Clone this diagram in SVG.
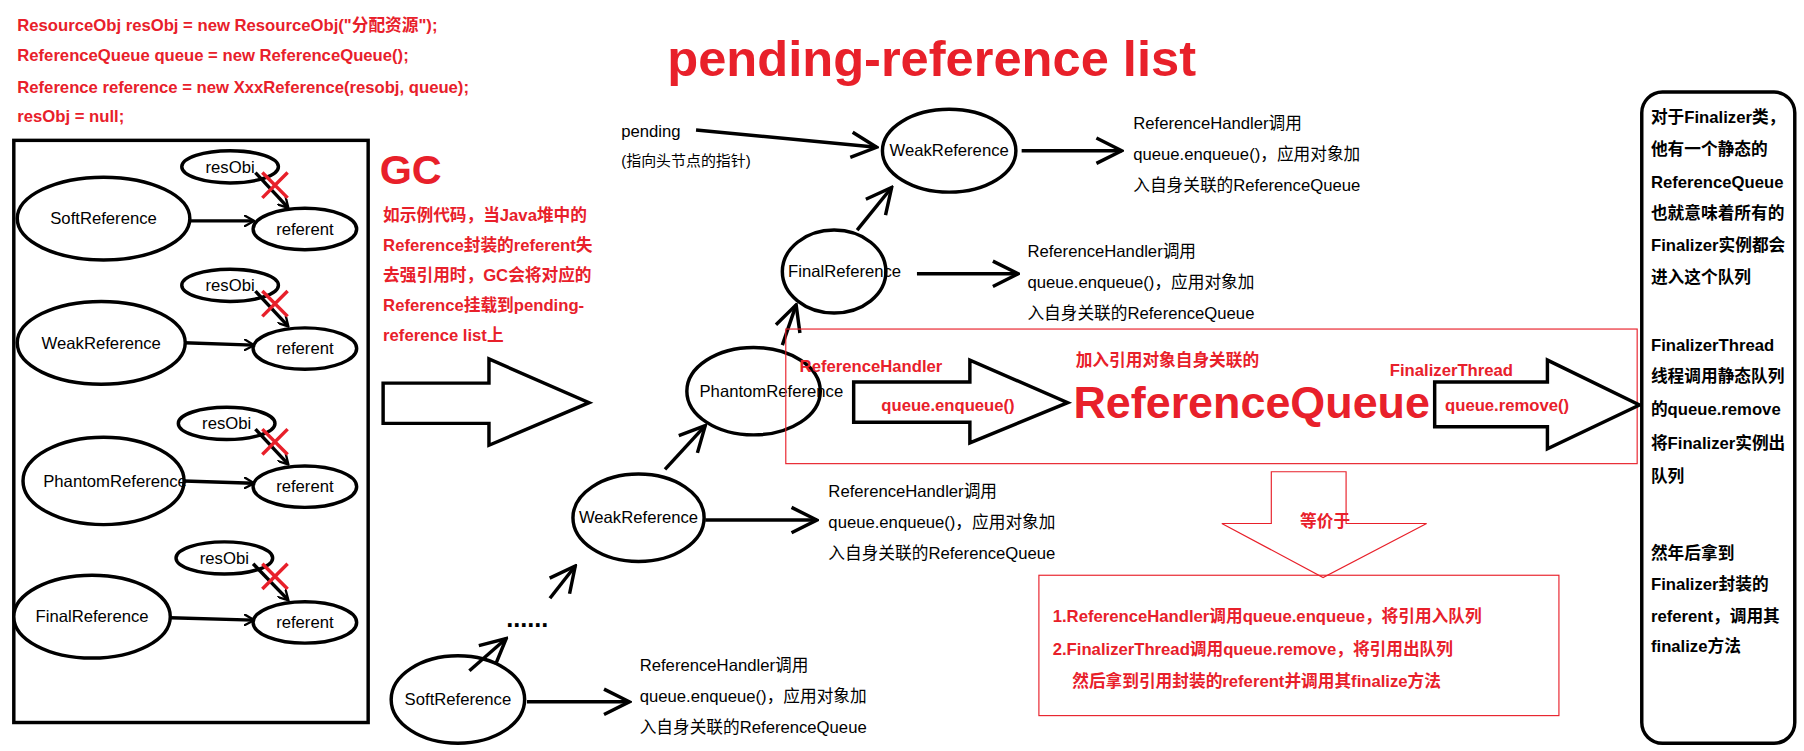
<svg xmlns="http://www.w3.org/2000/svg" width="1804" height="751" viewBox="0 0 1804 751">
<style>
text{font-family:"Liberation Sans","Noto Sans CJK SC",sans-serif;}
.r{fill:#e8202a;font-weight:bold;font-size:14.5px}
.b{fill:#000;font-size:14.5px}
.bb{fill:#000;font-weight:bold;font-size:14.5px}
.n{fill:#fff;stroke:#000;stroke-width:3}
.c{stroke:#000;stroke-width:3;fill:none}
.o{fill:#fff;stroke:#000;stroke-width:3}
</style>
<defs>
<marker id="a" markerWidth="10" markerHeight="10" refX="8" refY="5" orient="auto" markerUnits="userSpaceOnUse" viewBox="0 0 10 10"><path d="M0,0 L9,5 L0,10" fill="none" stroke="#000" stroke-width="2"/></marker>
<marker id="A" markerWidth="26" markerHeight="26" refX="24" refY="13" orient="auto" markerUnits="userSpaceOnUse" viewBox="0 0 26 26"><path d="M2,2 L24,13 L2,24" fill="none" stroke="#000" stroke-width="3"/></marker>
</defs>
<rect width="1804" height="751" fill="#fff"/>
<g transform="scale(1.1505)">
<g id="code">
<text class="r" x="15" y="27">ResourceObj resObj = new ResourceObj("分配资源");</text>
<text class="r" x="15" y="53">ReferenceQueue queue = new ReferenceQueue();</text>
<text class="r" x="15" y="81">Reference reference = new XxxReference(resobj, queue);</text>
<text class="r" x="15" y="106">resObj = null;</text>
<text x="580" y="66" style="fill:#e8202a;font-weight:bold;font-size:44px">pending-reference list</text>
</g>
<g id="leftbox">
<rect x="12" y="122" width="308" height="506" fill="none" stroke="#000" stroke-width="3"/>
</g>
<g id="nodes-left">
<g id="soft1"><ellipse class="n" cx="90" cy="190" rx="75" ry="36"/><text class="b" x="90" y="195" text-anchor="middle">SoftReference</text>
<ellipse class="n" cx="200" cy="145" rx="42" ry="14"/><text class="b" x="200" y="150" text-anchor="middle">resObi</text>
<ellipse class="n" cx="265" cy="199" rx="45" ry="18"/><text class="b" x="265" y="204" text-anchor="middle">referent</text></g>
<g id="weak1"><ellipse class="n" cx="88" cy="298" rx="73" ry="36"/><text class="b" x="88" y="303" text-anchor="middle">WeakReference</text>
<ellipse class="n" cx="200" cy="248" rx="42" ry="14"/><text class="b" x="200" y="253" text-anchor="middle">resObi</text>
<ellipse class="n" cx="265" cy="303" rx="45" ry="18"/><text class="b" x="265" y="308" text-anchor="middle">referent</text></g>
<g id="phantom1"><ellipse class="n" cx="90" cy="418" rx="70" ry="38"/><text class="b" x="100" y="423" text-anchor="middle">PhantomReference</text>
<ellipse class="n" cx="197" cy="368" rx="42" ry="14"/><text class="b" x="197" y="373" text-anchor="middle">resObi</text>
<ellipse class="n" cx="265" cy="423" rx="45" ry="18"/><text class="b" x="265" y="428" text-anchor="middle">referent</text></g>
<g id="final1"><ellipse class="n" cx="80" cy="536" rx="68" ry="36"/><text class="b" x="80" y="541" text-anchor="middle">FinalReference</text>
<ellipse class="n" cx="195" cy="485" rx="42" ry="14"/><text class="b" x="195" y="490" text-anchor="middle">resObi</text>
<ellipse class="n" cx="265" cy="541" rx="45" ry="18"/><text class="b" x="265" y="546" text-anchor="middle">referent</text></g>
</g>
<g id="chain">
<g id="softC"><ellipse class="n" cx="398" cy="608" rx="58" ry="38"/><text class="b" x="398" y="613" text-anchor="middle">SoftReference</text></g>
<g id="weakC"><ellipse class="n" cx="555" cy="450" rx="57" ry="38"/><text class="b" x="555" y="455" text-anchor="middle">WeakReference</text></g>
<g id="phantomC"><ellipse class="n" cx="655" cy="340" rx="58" ry="38"/><text class="b" x="608" y="345">PhantomReference</text></g>
<g id="finalC"><ellipse class="n" cx="725" cy="236" rx="45" ry="36"/><text class="b" x="685" y="241">FinalReference</text></g>
<g id="weakTop"><ellipse class="n" cx="825" cy="131" rx="58" ry="36"/><text class="b" x="825" y="136" text-anchor="middle">WeakReference</text></g>
<text x="440" y="545" style="font-size:22px;font-weight:bold">......</text>
</g>
<g id="texts">
<text class="bb" x="330" y="160" style="fill:#e8202a;font-size:36px">GC</text>
<text class="r" x="333" y="192">如示例代码，当Java堆中的</text>
<text class="r" x="333" y="218">Reference封装的referent失</text>
<text class="r" x="333" y="244">去强引用时，GC会将对应的</text>
<text class="r" x="333" y="270">Reference挂载到pending-</text>
<text class="r" x="333" y="296">reference list上</text>
<text class="b" x="540" y="119">pending</text>
<text class="b" x="540" y="144" style="font-size:13px">(指向头节点的指针)</text>
<g class="b"><text x="985" y="112">ReferenceHandler调用</text><text x="985" y="139">queue.enqueue()，应用对象加</text><text x="985" y="166">入自身关联的ReferenceQueue</text></g>
<g class="b"><text x="893" y="223">ReferenceHandler调用</text><text x="893" y="250">queue.enqueue()，应用对象加</text><text x="893" y="277">入自身关联的ReferenceQueue</text></g>
<g class="b"><text x="720" y="432">ReferenceHandler调用</text><text x="720" y="459">queue.enqueue()，应用对象加</text><text x="720" y="486">入自身关联的ReferenceQueue</text></g>
<g class="b"><text x="556" y="583">ReferenceHandler调用</text><text x="556" y="610">queue.enqueue()，应用对象加</text><text x="556" y="637">入自身关联的ReferenceQueue</text></g>
</g>
<g id="connectors">
<path class="c" marker-end="url(#a)" d="M165,192 L220,192"/>
<path class="c" marker-end="url(#a)" d="M222,150 L250,180"/>
<path class="c" marker-end="url(#a)" d="M160,298 L220,300"/>
<path class="c" marker-end="url(#a)" d="M222,253 L250,283"/>
<path class="c" marker-end="url(#a)" d="M160,418 L220,420"/>
<path class="c" marker-end="url(#a)" d="M222,373 L250,403"/>
<path class="c" marker-end="url(#a)" d="M148,537 L220,539"/>
<path class="c" marker-end="url(#a)" d="M220,490 L250,521"/>
<path d="M228,150 L250,172 M250,150 L228,172" stroke="#e8202a" stroke-width="3"/>
<path d="M228,253 L250,275 M250,253 L228,275" stroke="#e8202a" stroke-width="3"/>
<path d="M228,373 L250,395 M250,373 L228,395" stroke="#e8202a" stroke-width="3"/>
<path d="M228,490 L250,512 M250,490 L228,512" stroke="#e8202a" stroke-width="3"/>
<path class="c" marker-end="url(#A)" d="M408,583 L440,555"/>
<path class="c" marker-end="url(#A)" d="M478,520 L500,492"/>
<path class="c" marker-end="url(#A)" d="M578,408 L613,370"/>
<path class="c" marker-end="url(#A)" d="M680,300 L692,265"/>
<path class="c" marker-end="url(#A)" d="M745,200 L775,163"/>
<path class="c" marker-end="url(#A)" d="M605,113 L762,128"/>
<path class="c" marker-end="url(#A)" d="M888,131 L975,131"/>
<path class="c" marker-end="url(#A)" d="M797,238 L885,238"/>
<path class="c" marker-end="url(#A)" d="M613,452 L710,452"/>
<path class="c" marker-end="url(#A)" d="M458,610 L547,610"/>
<polygon class="o" points="333,333 425,333 425,312 512,350 425,387 425,368 333,368"/>
</g>
<g id="queuebox">
<rect x="683" y="286" width="740" height="117" fill="none" stroke="#e8202a" stroke-width="1"/>
<polygon class="o" points="742,332 843,332 843,313 928,350 843,385 843,367 742,367"/>
<polygon class="o" points="1247,332 1345,332 1345,313 1425,352 1345,390 1345,371 1247,371"/>
<text class="r" x="695" y="323">ReferenceHandler</text>
<text class="r" x="766" y="357">queue.enqueue()</text>
<text class="r" x="935" y="318">加入引用对象自身关联的</text>
<text x="933" y="363" style="fill:#e8202a;font-weight:bold;font-size:39px">ReferenceQueue</text>
<text class="r" x="1208" y="327">FinalizerThread</text>
<text class="r" x="1256" y="357">queue.remove()</text>
</g>
<g id="equiv">
<polygon points="1105,410 1170,410 1170,455 1240,455 1150,502 1062,455 1105,455" fill="#fff" stroke="#e8202a" stroke-width="1"/>
<text class="r" x="1130" y="458">等价于</text>
<rect x="903" y="500" width="452" height="122" fill="none" stroke="#e8202a" stroke-width="1"/>
<text class="r" x="915" y="541">1.ReferenceHandler调用queue.enqueue，将引用入队列</text>
<text class="r" x="915" y="569">2.FinalizerThread调用queue.remove，将引用出队列</text>
<text class="r" x="932" y="597">然后拿到引用封装的referent并调用其finalize方法</text>
</g>
<g id="note">
<rect x="1427" y="80" width="133" height="566" rx="18" fill="#fff" stroke="#000" stroke-width="3"/>
<g class="bb">
<text x="1435" y="107">对于Finalizer类，</text>
<text x="1435" y="135">他有一个静态的</text>
<text x="1435" y="163">ReferenceQueue</text>
<text x="1435" y="190">也就意味着所有的</text>
<text x="1435" y="218">Finalizer实例都会</text>
<text x="1435" y="246">进入这个队列</text>
<text x="1435" y="305">FinalizerThread</text>
<text x="1435" y="332">线程调用静态队列</text>
<text x="1435" y="361">的queue.remove</text>
<text x="1435" y="390">将Finalizer实例出</text>
<text x="1435" y="419">队列</text>
<text x="1435" y="486">然年后拿到</text>
<text x="1435" y="513">Finalizer封装的</text>
<text x="1435" y="541">referent，调用其</text>
<text x="1435" y="567">finalize方法</text>
</g>
</g>
</g>
</svg>
